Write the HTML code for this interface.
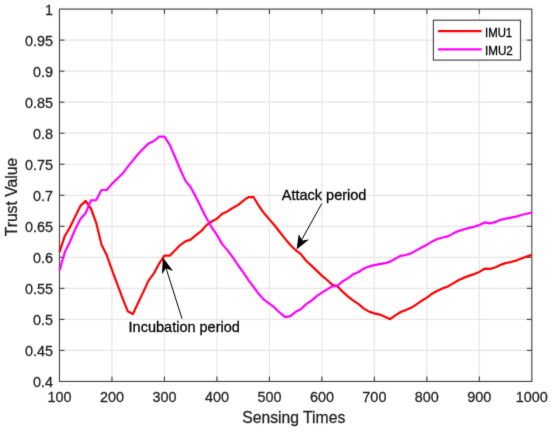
<!DOCTYPE html>
<html><head><meta charset="utf-8"><style>
html,body{margin:0;padding:0;background:#fff;}
svg{display:block;}
text{font-family:"Liberation Sans",Arial,sans-serif;}
</style></head><body>
<svg width="550" height="432" viewBox="0 0 550 432">
<defs><filter id="bl" x="0" y="0" width="550" height="432" filterUnits="userSpaceOnUse" color-interpolation-filters="sRGB"><feConvolveMatrix order="3" kernelMatrix="0.015 0.07 0.015 0.07 0.660 0.07 0.015 0.07 0.015" divisor="1" edgeMode="duplicate"/></filter></defs>
<rect x="0" y="0" width="550" height="432" fill="#fff"/>
<g filter="url(#bl)">
<g stroke="#e6e6e6" stroke-width="1.2">
<line x1="111.95" y1="9.09" x2="111.95" y2="381.46"/>
<line x1="164.43" y1="9.09" x2="164.43" y2="381.46"/>
<line x1="216.92" y1="9.09" x2="216.92" y2="381.46"/>
<line x1="269.40" y1="9.09" x2="269.40" y2="381.46"/>
<line x1="321.89" y1="9.09" x2="321.89" y2="381.46"/>
<line x1="374.37" y1="9.09" x2="374.37" y2="381.46"/>
<line x1="426.86" y1="9.09" x2="426.86" y2="381.46"/>
<line x1="479.34" y1="9.09" x2="479.34" y2="381.46"/>
<line x1="59.46" y1="350.43" x2="531.83" y2="350.43"/>
<line x1="59.46" y1="319.40" x2="531.83" y2="319.40"/>
<line x1="59.46" y1="288.37" x2="531.83" y2="288.37"/>
<line x1="59.46" y1="257.34" x2="531.83" y2="257.34"/>
<line x1="59.46" y1="226.31" x2="531.83" y2="226.31"/>
<line x1="59.46" y1="195.28" x2="531.83" y2="195.28"/>
<line x1="59.46" y1="164.24" x2="531.83" y2="164.24"/>
<line x1="59.46" y1="133.21" x2="531.83" y2="133.21"/>
<line x1="59.46" y1="102.18" x2="531.83" y2="102.18"/>
<line x1="59.46" y1="71.15" x2="531.83" y2="71.15"/>
<line x1="59.46" y1="40.12" x2="531.83" y2="40.12"/>
</g>
<g stroke="#444" stroke-width="1.15">
<line x1="111.95" y1="381.46" x2="111.95" y2="376.46"/>
<line x1="111.95" y1="9.09" x2="111.95" y2="14.09"/>
<line x1="164.43" y1="381.46" x2="164.43" y2="376.46"/>
<line x1="164.43" y1="9.09" x2="164.43" y2="14.09"/>
<line x1="216.92" y1="381.46" x2="216.92" y2="376.46"/>
<line x1="216.92" y1="9.09" x2="216.92" y2="14.09"/>
<line x1="269.40" y1="381.46" x2="269.40" y2="376.46"/>
<line x1="269.40" y1="9.09" x2="269.40" y2="14.09"/>
<line x1="321.89" y1="381.46" x2="321.89" y2="376.46"/>
<line x1="321.89" y1="9.09" x2="321.89" y2="14.09"/>
<line x1="374.37" y1="381.46" x2="374.37" y2="376.46"/>
<line x1="374.37" y1="9.09" x2="374.37" y2="14.09"/>
<line x1="426.86" y1="381.46" x2="426.86" y2="376.46"/>
<line x1="426.86" y1="9.09" x2="426.86" y2="14.09"/>
<line x1="479.34" y1="381.46" x2="479.34" y2="376.46"/>
<line x1="479.34" y1="9.09" x2="479.34" y2="14.09"/>
<line x1="59.46" y1="350.43" x2="64.46000000000001" y2="350.43"/>
<line x1="531.83" y1="350.43" x2="526.83" y2="350.43"/>
<line x1="59.46" y1="319.40" x2="64.46000000000001" y2="319.40"/>
<line x1="531.83" y1="319.40" x2="526.83" y2="319.40"/>
<line x1="59.46" y1="288.37" x2="64.46000000000001" y2="288.37"/>
<line x1="531.83" y1="288.37" x2="526.83" y2="288.37"/>
<line x1="59.46" y1="257.34" x2="64.46000000000001" y2="257.34"/>
<line x1="531.83" y1="257.34" x2="526.83" y2="257.34"/>
<line x1="59.46" y1="226.31" x2="64.46000000000001" y2="226.31"/>
<line x1="531.83" y1="226.31" x2="526.83" y2="226.31"/>
<line x1="59.46" y1="195.28" x2="64.46000000000001" y2="195.28"/>
<line x1="531.83" y1="195.28" x2="526.83" y2="195.28"/>
<line x1="59.46" y1="164.24" x2="64.46000000000001" y2="164.24"/>
<line x1="531.83" y1="164.24" x2="526.83" y2="164.24"/>
<line x1="59.46" y1="133.21" x2="64.46000000000001" y2="133.21"/>
<line x1="531.83" y1="133.21" x2="526.83" y2="133.21"/>
<line x1="59.46" y1="102.18" x2="64.46000000000001" y2="102.18"/>
<line x1="531.83" y1="102.18" x2="526.83" y2="102.18"/>
<line x1="59.46" y1="71.15" x2="64.46000000000001" y2="71.15"/>
<line x1="531.83" y1="71.15" x2="526.83" y2="71.15"/>
<line x1="59.46" y1="40.12" x2="64.46000000000001" y2="40.12"/>
<line x1="531.83" y1="40.12" x2="526.83" y2="40.12"/>
</g>
<rect x="59.46" y="9.09" width="472.37000000000006" height="372.37" fill="none" stroke="#444" stroke-width="1.15"/>
<g fill="none" stroke-width="2.2" stroke-linejoin="round" stroke-linecap="butt">
<polyline stroke="#ff0000" points="59.46,252.20 64.71,236.20 69.96,227.20 75.21,216.60 80.45,205.90 85.70,200.90 90.95,208.50 96.20,222.80 101.45,244.40 106.70,255.00 111.95,269.80 117.19,283.80 122.44,297.80 127.69,311.20 132.94,314.00 138.19,302.80 143.44,291.60 148.69,280.40 153.93,273.30 159.18,263.60 164.43,255.60 169.68,255.70 174.93,250.40 180.18,245.10 185.43,241.40 190.67,239.60 195.92,235.20 201.17,231.20 206.42,225.10 211.67,221.50 216.92,218.80 222.17,213.80 227.41,211.40 232.66,208.00 237.91,205.10 243.16,200.80 248.41,197.20 253.66,197.20 258.91,206.00 264.15,213.30 269.40,219.40 274.65,225.50 279.90,232.20 285.15,238.90 290.40,245.00 295.65,250.20 300.89,254.10 306.14,260.80 311.39,265.60 316.64,270.60 321.89,275.60 327.14,280.00 332.38,284.90 337.63,286.40 342.88,291.90 348.13,296.60 353.38,300.70 358.63,304.10 363.88,308.60 369.12,311.60 374.37,313.40 379.62,314.60 384.87,316.70 390.12,319.20 395.37,315.40 400.62,312.00 405.86,310.10 411.11,307.80 416.36,304.40 421.61,300.80 426.86,297.60 432.11,293.70 437.36,290.80 442.60,288.40 447.85,286.50 453.10,283.40 458.35,280.30 463.60,277.90 468.85,275.90 474.10,274.10 479.34,271.90 484.59,268.70 489.84,268.90 495.09,267.50 500.34,264.90 505.59,263.10 510.84,262.00 516.08,260.60 521.33,258.50 526.58,256.60 531.83,254.80"/>
<polyline stroke="#ff00ff" points="59.46,270.50 64.71,252.60 69.96,241.70 75.21,229.30 80.45,218.90 85.70,213.00 90.95,200.40 96.20,200.10 101.45,190.00 106.70,190.00 111.95,183.90 117.19,178.70 122.44,173.80 127.69,166.90 132.94,160.40 138.19,154.00 143.44,148.60 148.69,143.40 153.93,141.00 159.18,136.70 164.43,136.60 169.68,144.60 174.93,156.80 180.18,169.20 185.43,180.60 190.67,187.30 195.92,196.90 201.17,207.40 206.42,218.00 211.67,227.30 216.92,234.90 222.17,244.10 227.41,250.10 232.66,257.20 237.91,265.00 243.16,272.10 248.41,280.20 253.66,287.00 258.91,294.10 264.15,299.90 269.40,303.70 274.65,307.70 279.90,312.70 285.15,317.10 290.40,316.10 295.65,311.80 300.89,309.30 306.14,304.10 311.39,300.80 316.64,296.20 321.89,292.60 327.14,289.40 332.38,286.40 337.63,285.70 342.88,281.20 348.13,278.10 353.38,274.20 358.63,272.00 363.88,268.50 369.12,266.40 374.37,265.10 379.62,264.20 384.87,263.20 390.12,261.60 395.37,258.70 400.62,255.80 405.86,255.00 411.11,253.30 416.36,250.40 421.61,247.50 426.86,244.80 432.11,241.40 437.36,239.00 442.60,237.50 447.85,236.40 453.10,233.60 458.35,231.10 463.60,229.50 468.85,227.90 474.10,226.80 479.34,225.10 484.59,222.40 489.84,223.30 495.09,222.20 500.34,219.80 505.59,218.70 510.84,217.70 516.08,216.60 521.33,215.00 526.58,213.80 531.83,212.70"/>
</g>
<g fill="#1e1e1e" stroke="#1e1e1e" stroke-width="0.28" font-size="15.5">
<text transform="translate(59.46,401.8) scale(0.93,1)" text-anchor="middle">100</text>
<text transform="translate(111.95,401.8) scale(0.93,1)" text-anchor="middle">200</text>
<text transform="translate(164.43,401.8) scale(0.93,1)" text-anchor="middle">300</text>
<text transform="translate(216.92,401.8) scale(0.93,1)" text-anchor="middle">400</text>
<text transform="translate(269.40,401.8) scale(0.93,1)" text-anchor="middle">500</text>
<text transform="translate(321.89,401.8) scale(0.93,1)" text-anchor="middle">600</text>
<text transform="translate(374.37,401.8) scale(0.93,1)" text-anchor="middle">700</text>
<text transform="translate(426.86,401.8) scale(0.93,1)" text-anchor="middle">800</text>
<text transform="translate(479.34,401.8) scale(0.93,1)" text-anchor="middle">900</text>
<text transform="translate(531.83,401.8) scale(0.93,1)" text-anchor="middle">1000</text>
<text transform="translate(53,386.96) scale(0.93,1)" text-anchor="end">0.4</text>
<text transform="translate(53,355.93) scale(0.93,1)" text-anchor="end">0.45</text>
<text transform="translate(53,324.90) scale(0.93,1)" text-anchor="end">0.5</text>
<text transform="translate(53,293.87) scale(0.93,1)" text-anchor="end">0.55</text>
<text transform="translate(53,262.84) scale(0.93,1)" text-anchor="end">0.6</text>
<text transform="translate(53,231.81) scale(0.93,1)" text-anchor="end">0.65</text>
<text transform="translate(53,200.78) scale(0.93,1)" text-anchor="end">0.7</text>
<text transform="translate(53,169.74) scale(0.93,1)" text-anchor="end">0.75</text>
<text transform="translate(53,138.71) scale(0.93,1)" text-anchor="end">0.8</text>
<text transform="translate(53,107.68) scale(0.93,1)" text-anchor="end">0.85</text>
<text transform="translate(53,76.65) scale(0.93,1)" text-anchor="end">0.9</text>
<text transform="translate(53,45.62) scale(0.93,1)" text-anchor="end">0.95</text>
<text transform="translate(53,14.59) scale(0.93,1)" text-anchor="end">1</text>
</g>
<text x="293.8" y="423.2" text-anchor="middle" fill="#1e1e1e" stroke="#1e1e1e" stroke-width="0.28" font-size="15.7">Sensing Times</text>
<text transform="translate(16.6,197.1) rotate(-90)" text-anchor="middle" fill="#1e1e1e" stroke="#1e1e1e" stroke-width="0.28" font-size="15.7">Trust Value</text>
<!-- legend -->
<rect x="433.4" y="20.2" width="87.1" height="39.9" fill="#fff" stroke="#444" stroke-width="1.15"/>
<line x1="438" y1="31.2" x2="481.6" y2="31.2" stroke="#ff0000" stroke-width="2.2"/>
<line x1="438" y1="49.3" x2="481.6" y2="49.3" stroke="#ff00ff" stroke-width="2.2"/>
<g fill="#000" stroke="#000" stroke-width="0.28" font-size="13.4">
<text x="485" y="36.9" textLength="27.2" lengthAdjust="spacingAndGlyphs">IMU1</text>
<text x="485" y="54.8" textLength="27.8" lengthAdjust="spacingAndGlyphs">IMU2</text>
</g>
<!-- annotations -->
<g fill="#000" stroke="#000" stroke-width="0.28" font-size="14.5">
<text x="281.8" y="199.6">Attack period</text>
<text x="128.6" y="332">Incubation period</text>
</g>
<g stroke="#000" stroke-width="1" fill="none">
<line x1="321.8" y1="203.5" x2="301" y2="241"/>
<line x1="182" y1="318.6" x2="166" y2="268"/>
</g>
<g fill="#000" stroke="none">
<polygon points="296.6,249.6 298.7,234.2 302.3,240.5 309.0,239.6"/>
<polygon points="162.9,257.6 173.1,271.0 165.8,268.3 161.9,274.2"/>
</g>
</g>
</svg>
</body></html>
